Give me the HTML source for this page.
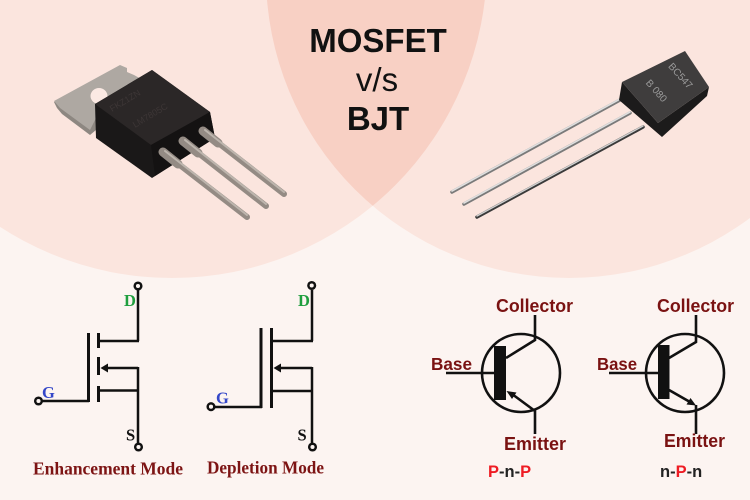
<!DOCTYPE html>
<html><head><meta charset="utf-8"><style>
html,body{margin:0;padding:0;background:#fcf4f1;}
svg{display:block;}
</style></head><body>
<svg width="750" height="500" viewBox="0 0 750 500" xmlns="http://www.w3.org/2000/svg">
<defs>
<clipPath id="cl"><circle cx="172" cy="-37" r="315"/></clipPath>
</defs>
<rect width="750" height="500" fill="#fcf4f1"/>
<circle cx="172" cy="-37" r="315" fill="#fbe5de"/>
<circle cx="569" cy="-25" r="303" fill="#fbe5de"/>
<circle cx="569" cy="-25" r="303" fill="#f8d0c4" clip-path="url(#cl)"/>

<!-- Title -->
<g font-family="Liberation Sans, Arial, sans-serif" fill="#111" text-anchor="middle">
<text x="378" y="52" font-size="33" font-weight="bold">MOSFET</text>
<text x="377" y="91" font-size="33">v/s</text>
<text x="378" y="130" font-size="33" font-weight="bold">BJT</text>
</g>

<!-- MOSFET TO-220 photo -->
<g>
<polygon points="54,102 120,66 127,69 127,73 134,76 152,86 96,120 96,130 90,135 62,114 57,108" fill="#8d8781"/>
<polygon points="54,101 120,65 127,68 127,72 134,75 152,85 96,118 90,130 60,108" fill="#aea8a2"/>
<ellipse cx="99" cy="96" rx="8.5" ry="8" fill="#fbe9e3"/>
<polygon points="95,104 152,70 210,112 215,138 152,178 96,138" fill="#1a1818"/>
<polygon points="95,104 152,70 210,112 151,145" fill="#2b2727"/>
<polygon points="151,145 210,112 215,138 155,176" fill="#141212"/>
<text x="0" y="0" font-family="Liberation Sans, sans-serif" font-size="9" fill="#3d3636" transform="translate(112,112) rotate(-31)">FKZ1ZN</text>
<text x="0" y="0" font-family="Liberation Sans, sans-serif" font-size="9" fill="#3d3636" transform="translate(135,128) rotate(-31)">LM7805C</text>
<!-- pins -->
<g stroke-linecap="round">
<line x1="203" y1="131" x2="284" y2="194" stroke="#948b84" stroke-width="6"/>
<line x1="203" y1="131" x2="218" y2="143" stroke="#948b84" stroke-width="9"/>
<line x1="205" y1="130" x2="284" y2="192" stroke="#bdb5ad" stroke-width="2"/>
<line x1="183" y1="141" x2="266" y2="206" stroke="#948b84" stroke-width="6"/>
<line x1="183" y1="141" x2="198" y2="153" stroke="#948b84" stroke-width="9"/>
<line x1="185" y1="140" x2="266" y2="204" stroke="#bdb5ad" stroke-width="2"/>
<line x1="163" y1="152" x2="247" y2="217" stroke="#948b84" stroke-width="6"/>
<line x1="163" y1="152" x2="178" y2="164" stroke="#948b84" stroke-width="9"/>
<line x1="165" y1="151" x2="247" y2="215" stroke="#bdb5ad" stroke-width="2"/>
</g>
</g>

<!-- BC547 photo -->
<g>
<g stroke-linecap="round">
<line x1="620" y1="100" x2="452" y2="192" stroke="#7a7a7a" stroke-width="3.5"/>
<line x1="620" y1="99" x2="452" y2="191" stroke="#dedede" stroke-width="1.6"/>
<line x1="630" y1="113" x2="464" y2="204" stroke="#7a7a7a" stroke-width="3.5"/>
<line x1="630" y1="112" x2="464" y2="203" stroke="#dedede" stroke-width="1.6"/>
<line x1="643" y1="127" x2="477" y2="217" stroke="#3a3a3a" stroke-width="3.5"/>
<line x1="643" y1="126" x2="477" y2="216" stroke="#cfcfcf" stroke-width="1.4"/>
</g>
<polygon points="622,82 658,123 709,87 707,96 662,137 619,100" fill="#1c1b1b"/>
<polygon points="622,82 685,51 709,87 658,123" fill="#3f3d3d"/>
<text x="0" y="0" font-family="Liberation Sans, sans-serif" font-size="10" fill="#9a9a9a" text-anchor="middle" transform="translate(678,78) rotate(48)">BC547</text>
<text x="0" y="0" font-family="Liberation Sans, sans-serif" font-size="10" fill="#9a9a9a" text-anchor="middle" transform="translate(654,93) rotate(48)">B 080</text>
</g>

<!-- Enhancement MOSFET -->
<g stroke="#111" fill="none" stroke-width="2.5">
<line x1="138" y1="290" x2="138" y2="341"/>
<line x1="98" y1="341" x2="139" y2="341"/>
<line x1="98.5" y1="333" x2="98.5" y2="348" stroke-width="3"/>
<line x1="98.5" y1="357" x2="98.5" y2="375" stroke-width="3"/>
<line x1="98.5" y1="386" x2="98.5" y2="402" stroke-width="3"/>
<line x1="88.5" y1="333" x2="88.5" y2="402" stroke-width="3"/>
<line x1="42" y1="401" x2="89" y2="401"/>
<line x1="106" y1="368" x2="138" y2="368"/>
<line x1="99" y1="390.5" x2="138" y2="390.5"/>
<line x1="138" y1="367" x2="138" y2="443"/>
<circle cx="138" cy="286" r="3.3"/>
<circle cx="38.5" cy="401" r="3.3"/>
<circle cx="138.5" cy="447" r="3.3"/>
</g>
<polygon points="100.5,368 108,363.5 108,372.5" fill="#111"/>

<!-- Depletion MOSFET -->
<g stroke="#111" fill="none" stroke-width="2.5">
<line x1="312" y1="290" x2="312" y2="341"/>
<line x1="271" y1="341" x2="313" y2="341"/>
<line x1="271.5" y1="328" x2="271.5" y2="408" stroke-width="3"/>
<line x1="261" y1="328" x2="261" y2="408" stroke-width="3"/>
<line x1="215" y1="407" x2="262" y2="407"/>
<line x1="280" y1="368" x2="312" y2="368"/>
<line x1="272" y1="391" x2="312" y2="391"/>
<line x1="312" y1="367" x2="312" y2="443"/>
<circle cx="311.7" cy="285.5" r="3.3"/>
<circle cx="211" cy="406.7" r="3.3"/>
<circle cx="312.5" cy="447" r="3.3"/>
</g>
<polygon points="273.5,368 281,363.5 281,372.5" fill="#111"/>

<!-- MOSFET labels -->
<g font-family="Liberation Serif, Times New Roman, serif" font-weight="bold" font-size="16.5">
<text x="124" y="306" fill="#1f9e3e">D</text>
<text x="42" y="398" fill="#3447c8">G</text>
<text x="126" y="440.5" fill="#111">S</text>
<text x="298" y="306" fill="#1f9e3e">D</text>
<text x="216" y="403.5" fill="#3447c8">G</text>
<text x="297.5" y="440.5" fill="#111">S</text>
</g>
<g font-family="Liberation Serif, Times New Roman, serif" font-weight="bold" font-size="17.5" fill="#7d1414">
<text x="33" y="474.5" textLength="150" lengthAdjust="spacingAndGlyphs">Enhancement Mode</text>
<text x="207" y="473.5" textLength="117" lengthAdjust="spacingAndGlyphs">Depletion Mode</text>
</g>

<!-- PNP BJT -->
<g stroke="#111" fill="none" stroke-width="2.6">
<circle cx="521" cy="373" r="39"/>
<line x1="446" y1="373" x2="495" y2="373"/>
<polyline points="506,358 535,340 535,315"/>
<polyline points="512,394 535,411 535,434"/>
</g>
<rect x="494" y="346" width="12" height="54" fill="#111"/>
<polygon points="506.5,391 516.5,392.5 512,399" fill="#111"/>

<!-- NPN BJT -->
<g stroke="#111" fill="none" stroke-width="2.6">
<circle cx="685" cy="373" r="39"/>
<line x1="609" y1="373" x2="659" y2="373"/>
<polyline points="669,358 696,342 696,315"/>
<polyline points="669,390 690,402"/>
<polyline points="696,405 696,434"/>
</g>
<rect x="658" y="345" width="11.5" height="54" fill="#111"/>
<polygon points="696,405.5 686.5,404.5 690.5,398" fill="#111"/>

<!-- BJT labels -->
<g font-family="Liberation Sans, Arial, sans-serif" font-weight="bold" fill="#7a1212">
<text x="496" y="312" font-size="18" textLength="77" lengthAdjust="spacingAndGlyphs">Collector</text>
<text x="431" y="370" font-size="17.5" textLength="41" lengthAdjust="spacingAndGlyphs">Base</text>
<text x="504" y="450" font-size="18" textLength="62" lengthAdjust="spacingAndGlyphs">Emitter</text>
<text x="657" y="312" font-size="18" textLength="77" lengthAdjust="spacingAndGlyphs">Collector</text>
<text x="597" y="370" font-size="17.5" textLength="40" lengthAdjust="spacingAndGlyphs">Base</text>
<text x="664" y="447" font-size="18" textLength="61" lengthAdjust="spacingAndGlyphs">Emitter</text>
</g>
<g font-family="Liberation Sans, Arial, sans-serif" font-weight="bold" font-size="16.5">
<text x="488" y="477"><tspan fill="#ee1c24">P</tspan><tspan fill="#222">-n-</tspan><tspan fill="#ee1c24">P</tspan></text>
<text x="660" y="477"><tspan fill="#222">n-</tspan><tspan fill="#ee1c24">P</tspan><tspan fill="#222">-n</tspan></text>
</g>
</svg>
</body></html>
